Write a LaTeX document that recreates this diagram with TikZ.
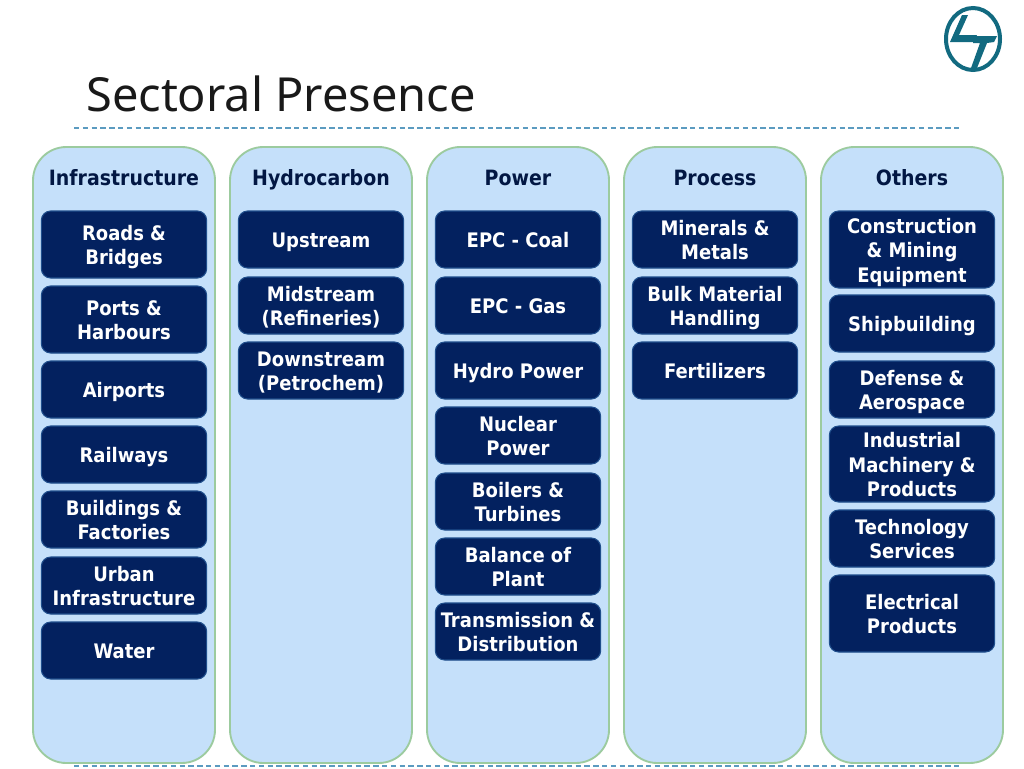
\documentclass[tikz,border=0pt]{standalone}
\usepackage{fontspec}
\setmainfont{Noto Sans}
\newfontfamily\boxfont{DejaVu Sans Condensed}[BoldFont={DejaVu Sans Condensed Bold}]
\usetikzlibrary{positioning}
\definecolor{panelblue}{HTML}{C5E0FA}
\definecolor{panelgreen}{HTML}{9CCB9F}
\definecolor{boxnavy}{HTML}{03215F}
\definecolor{boxedge}{HTML}{1F4E8C}
\definecolor{dashblue}{HTML}{5B9BC0}
\definecolor{logoteal}{HTML}{126A80}
\newcommand{\topstrut}{\rule{0pt}{16pt}}
\newcommand{\botstrut}{\rule[-3.7pt]{0pt}{3.7pt}}
\tikzset{
  panel/.style={draw=panelgreen, fill=panelblue, line width=1.4pt, rounded corners=25pt},
  sectorbox/.style={draw=boxedge, fill=boxnavy, line width=0.8pt, rounded corners=7pt,
    text=white, font=\boxfont\fontsize{15}{18.4}\selectfont\bfseries, align=center,
    minimum width=124pt, inner sep=0pt},
  sectorhead/.style={text=boxnavy!70!black, font=\boxfont\fontsize{15.8}{18}\selectfont\bfseries,
    inner sep=0pt},
  rulerline/.style={draw=dashblue, line width=0.8pt, dash pattern=on 4pt off 2.6pt},
}
\begin{document}
\begin{tikzpicture}[x=0.75pt, y=-0.75pt]
  \useasboundingbox (0,0) rectangle (1024,768);
  \fill[white] (0,0) rectangle (1024,768);

  % Title
  \node[font=\fontsize{35.2}{40}\selectfont, anchor=base west, inner sep=0pt, text=black!90] (title) at (86,111) {Sectoral Presence};
  \draw[rulerline] (74,128) -- (960,128);
  \draw[rulerline] (74,766) -- (960,766);

  % Logo
  \draw[logoteal, line width=3pt] (973,39) ellipse [x radius=27, y radius=31];
  \fill[logoteal] (962,15) -- (968,15) -- (959,35) -- (977,35) -- (974,42) -- (950,42) -- cycle;
  \fill[logoteal] (975,36) -- (997,36) -- (994,42) -- (987,43) -- (977,68) -- (971,68) -- (980,43) -- (973,43) -- cycle;

  % Panels
  \foreach \n/\x/\head in {a/124/Infrastructure, b/321/Hydrocarbon, c/518/Power, d/715/Process, e/912/Others} {
    \path[panel] (\x-91,147) rectangle (\x+91,763);
    \node[sectorhead] (head\n) at (\x,177) {\topstrut\head\botstrut};
  }

  % Infrastructure
  \foreach \i/\y/\h/\txt in {1/244.5/67/Roads \&\\Bridges, 2/319.5/67/Ports \&\\Harbours, 3/389.5/57/Airports,
      4/454.5/57/Railways, 5/519.5/57/Buildings \&\\Factories, 6/585.5/57/Urban\\Infrastructure, 7/650.5/57/Water} {
    \node[sectorbox, minimum height=\h*0.75pt] (a\i) at (124,\y) {\topstrut\txt\botstrut};
  }

  % Hydrocarbon
  \foreach \i/\y/\h/\txt in {1/239.5/57/Upstream, 2/305.5/57/Midstream\\(Refineries), 3/370.5/57/Downstream\\(Petrochem)} {
    \node[sectorbox, minimum height=\h*0.75pt] (b\i) at (321,\y) {\topstrut\txt\botstrut};
  }

  % Power
  \foreach \i/\y/\h/\txt in {1/239.5/57/EPC - Coal, 2/305.5/57/EPC - Gas, 3/370.5/57/Hydro Power, 4/435.5/57/Nuclear\\Power,
      5/501.5/57/Boilers \&\\Turbines, 6/566.5/57/Balance of\\Plant, 7/631.5/57/Transmission \&\\Distribution} {
    \node[sectorbox, minimum height=\h*0.75pt] (c\i) at (518,\y) {\topstrut\txt\botstrut};
  }

  % Process
  \foreach \i/\y/\h/\txt in {1/239.5/57/Minerals \&\\Metals, 2/305.5/57/Bulk Material\\Handling, 3/370.5/57/Fertilizers} {
    \node[sectorbox, minimum height=\h*0.75pt] (d\i) at (715,\y) {\topstrut\txt\botstrut};
  }

  % Others
  \foreach \i/\y/\h/\txt in {1/249.5/77/Construction\\\& Mining\\Equipment, 2/323.5/57/Shipbuilding, 3/389.5/57/Defense \&\\Aerospace,
      4/464/76/Industrial\\Machinery \&\\Products, 5/538.5/57/Technology\\Services, 6/613.5/77/Electrical\\Products} {
    \node[sectorbox, minimum height=\h*0.75pt] (e\i) at (912,\y) {\topstrut\txt\botstrut};
  }
\end{tikzpicture}
\end{document}
